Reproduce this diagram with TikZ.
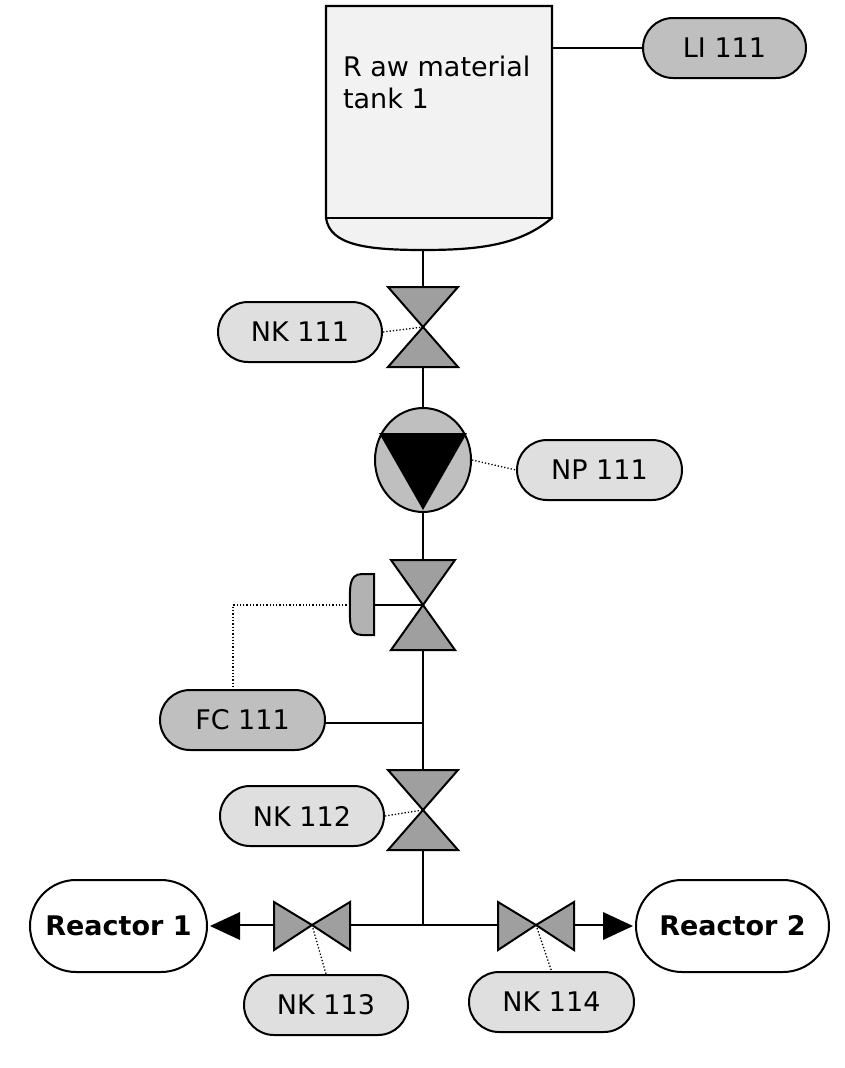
\documentclass[tikz,border=0pt]{standalone}
\usepackage{fontspec}
\setmainfont{DejaVu Sans}
\usetikzlibrary{shapes.misc,shapes.geometric,arrows.meta}
\begin{document}
\begin{tikzpicture}[x=1pt,y=-1pt,line width=2.2pt,
 pill/.style={rounded rectangle,draw,line width=2pt,minimum height=60pt,inner xsep=0pt,font=\fontsize{27}{30}\selectfont},
 lt/.style={pill,fill=gray!25},
 dk/.style={pill,fill=gray!50},
 tri/.style={fill=gray!75,draw,line width=2pt,line join=miter},
 dots/.style={dotted,line width=1.3pt}]
\useasboundingbox (0,0) rectangle (844,1068);
% pipe
\draw (423,250) -- (423,925);
\draw (240,925) -- (604,925);
% tank
\draw[fill=gray!10] (326,6) -- (552,6) -- (552,218) .. controls (520,245) and (480,250) .. (423,250) .. controls (366,250) and (330,245) .. (326,218) -- cycle;
\draw[line width=1.2pt] (326,218) -- (552,218);
\node[anchor=north west,align=left,font=\fontsize{27}{32}\selectfont,inner sep=0pt] (tank) at (342,55) {R aw material\\tank 1};
\coordinate (tankR) at (552,48);
\node[dk,minimum width=163pt] (LI) at (724.5,48) {LI 111};
\draw (tankR) -- (LI.west);
% NK111
\coordinate (v1) at (423,327);
\draw[tri] (388,287) -- (458,287) -- (v1) -- cycle;
\draw[tri] (388,367) -- (458,367) -- (v1) -- cycle;
\node[lt,minimum width=164pt] (NK1) at (300,332) {NK 111};
\draw[dots] (NK1.east) -- (v1);
% pump
\node[ellipse,draw,fill=gray!50,minimum width=96pt,minimum height=104pt,line width=2pt] (pump) at (423,460) {};
\fill (379,433) -- (467,433) -- (423,510) -- cycle;
\node[lt,minimum width=165pt] (NP) at (599.5,470) {NP 111};
\draw[dots] (pump.east) -- (NP.west);
% control valve
\coordinate (v2) at (423,605);
\draw[tri] (391,560) -- (455,560) -- (v2) -- cycle;
\draw[tri] (391,650) -- (455,650) -- (v2) -- cycle;
\draw (374,605) -- (v2);
\draw[fill=gray!60,line width=2pt] (374,574) -- (374,635) -- (362,635) .. controls (348,635) and (350,620) .. (350,605) .. controls (350,590) and (348,574) .. (362,574) -- cycle;
\node[dk,minimum width=165pt] (FC) at (242.5,720) {FC 111};
\coordinate (act) at (350,605);
\draw[dots] (act) -- (233,605) -- (233,690);
\coordinate (fcj) at (423,723);
\draw (325,723) -- (fcj);
% NK112
\coordinate (v3) at (423,810);
\draw[tri] (388,770) -- (458,770) -- (v3) -- cycle;
\draw[tri] (388,850) -- (458,850) -- (v3) -- cycle;
\node[lt,minimum width=164pt] (NK2) at (302,816) {NK 112};
\draw[dots] (NK2.east) -- (v3);
% NK113
\coordinate (v4) at (312,925);
\draw[tri] (274,902) -- (274,950) -- (v4) -- cycle;
\draw[tri] (350,902) -- (350,950) -- (v4) -- cycle;
\node[lt,minimum width=164pt] (NK3) at (326,1005) {NK 113};
\draw[dots] (v4) -- (NK3.north);
% NK114
\coordinate (v5) at (536,925);
\draw[tri] (498,902) -- (498,950) -- (v5) -- cycle;
\draw[tri] (574,902) -- (574,950) -- (v5) -- cycle;
\node[lt,minimum width=165pt] (NK4) at (551.5,1002) {NK 114};
\draw[dots] (v5) -- (NK4.north);
% reactors
\node[pill,fill=white,minimum width=177pt,minimum height=92pt,font=\fontsize{27}{30}\selectfont\bfseries] (R1) at (118.5,926) {Reactor 1};
\node[pill,fill=white,minimum width=193pt,minimum height=92pt,font=\fontsize{27}{30}\selectfont\bfseries] (R2) at (732.5,926) {Reactor 2};
\fill (R1.east) ++(2,0) -- ++(30,-14) -- ++(0,28) -- cycle;
\fill (R2.west) ++(-2,0) -- ++(-30,-14) -- ++(0,28) -- cycle;
\end{tikzpicture}
\end{document}
